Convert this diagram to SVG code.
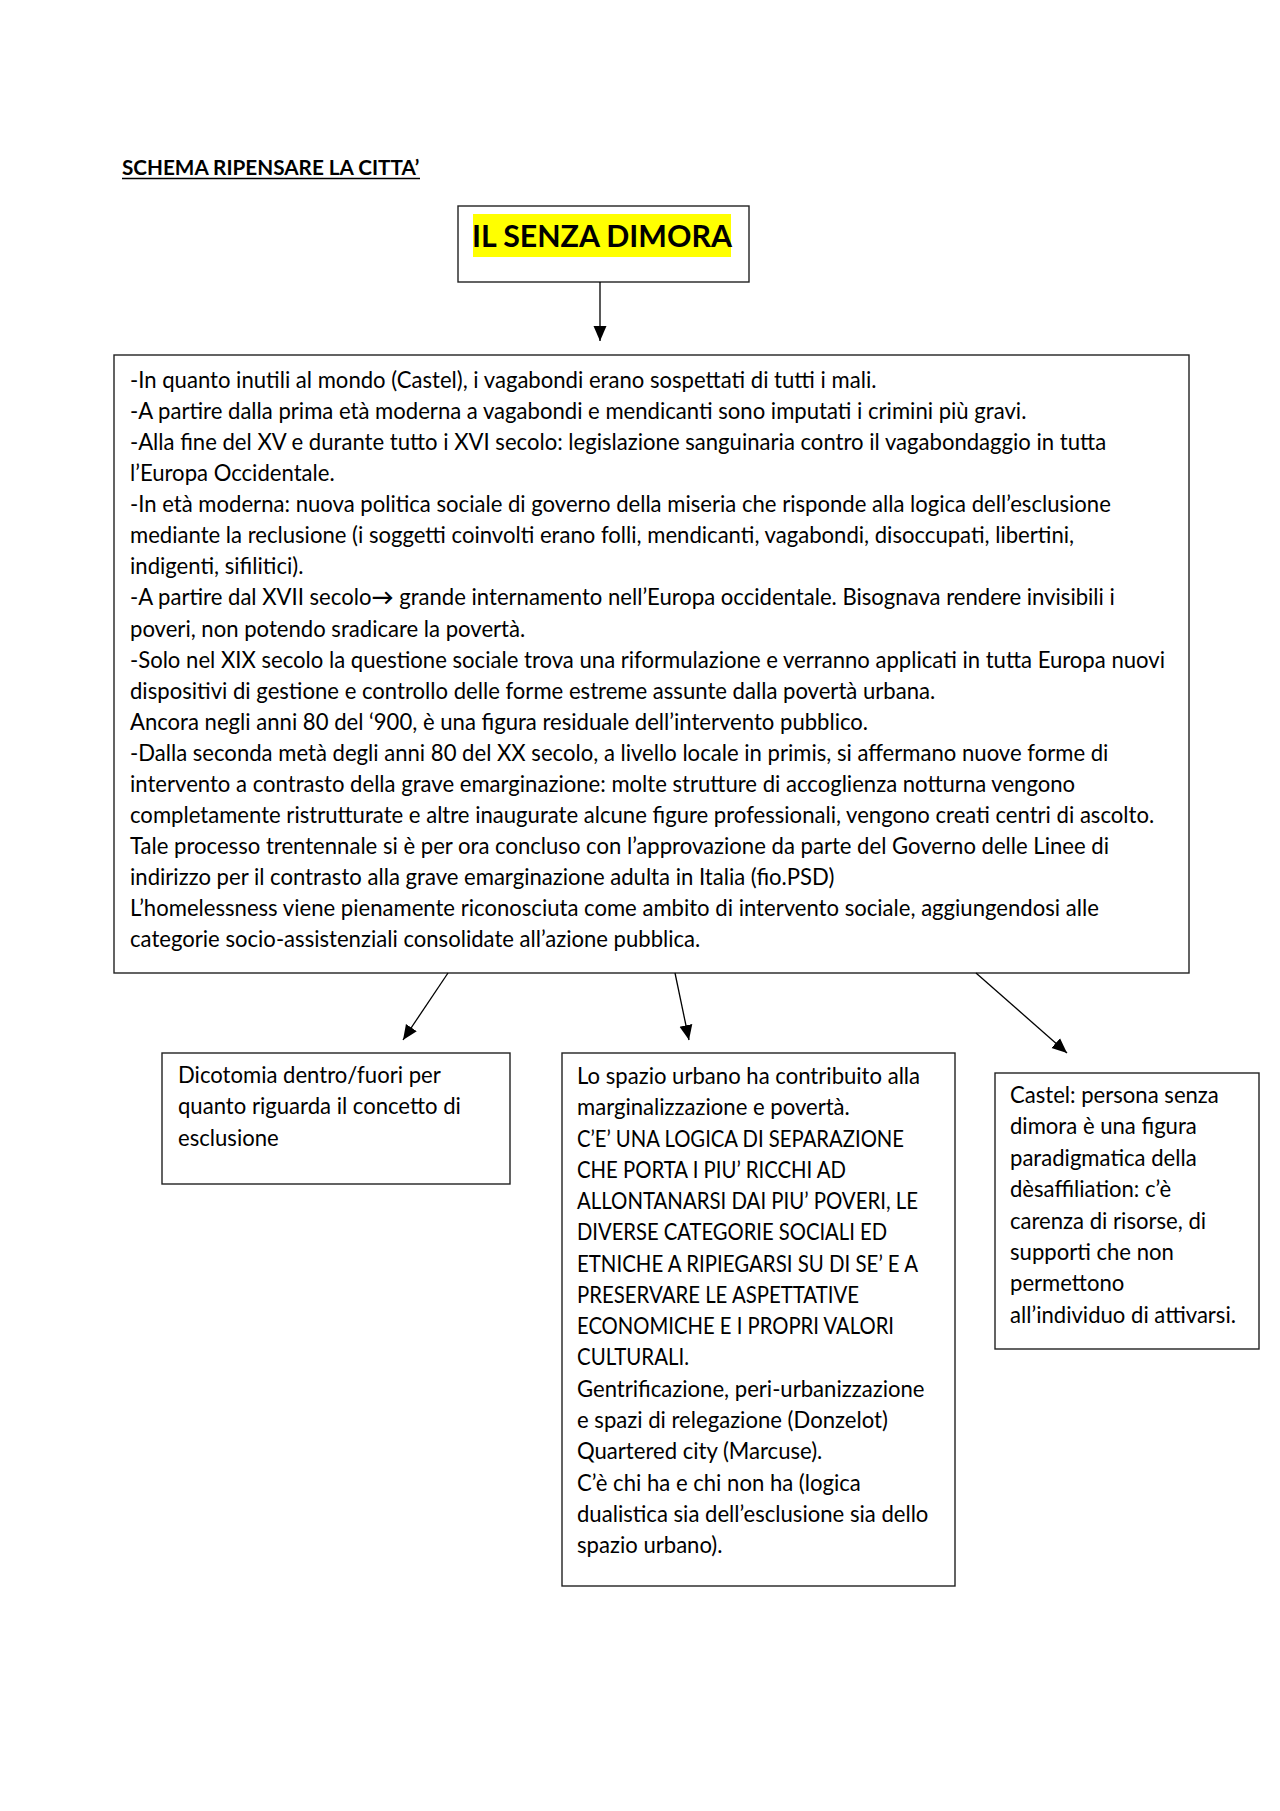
<svg xmlns="http://www.w3.org/2000/svg" width="1280" height="1811" viewBox="0 0 1280 1811">
<defs>
<marker id="ah" markerUnits="userSpaceOnUse" markerWidth="16" markerHeight="16" viewBox="0 0 16 16" refX="15" refY="8" orient="auto">
<path d="M0,1.5 L15,8 L0,14.5 Z" fill="#000"/>
</marker>
</defs>
<style>
.box{fill:#fff;stroke:#222;stroke-width:1.4}
.t{font-family:Lato,"Liberation Sans",sans-serif;font-size:22.1px;fill:#000}
.b{font-weight:bold}
.conn line{stroke:#000;stroke-width:1.3;marker-end:url(#ah)}
</style>
<rect width="1280" height="1811" fill="#fff"/>
<g id="title">
<text class="t b" x="122" y="175" style="font-size:20.7px">SCHEMA RIPENSARE LA CITTA’</text>
<line x1="122" y1="178.5" x2="420" y2="178.5" stroke="#000" stroke-width="1.5"/>
</g>
<g id="node-senza-dimora">
<rect class="box" x="458" y="206" width="291" height="76"/>
<rect x="473" y="214" width="258" height="43" fill="#ffff00"/>
<text class="t b" x="602" y="247" text-anchor="middle" style="font-size:30.3px">IL SENZA DIMORA</text>
</g>
<g id="node-storia">
<rect class="box" x="114" y="355" width="1075" height="618"/>
<text class="t">
<tspan x="130" y="388">-In quanto inutili al mondo (Castel), i vagabondi erano sospettati di tutti i mali.</tspan>
<tspan x="130" y="419.1">-A partire dalla prima età moderna a vagabondi e mendicanti sono imputati i crimini più gravi.</tspan>
<tspan x="130" y="450.1">-Alla fine del XV e durante tutto i XVI secolo: legislazione sanguinaria contro il vagabondaggio in tutta</tspan>
<tspan x="130" y="481.2">l’Europa Occidentale.</tspan>
<tspan x="130" y="512.2">-In età moderna: nuova politica sociale di governo della miseria che risponde alla logica dell’esclusione</tspan>
<tspan x="130" y="543.3">mediante la reclusione (i soggetti coinvolti erano folli, mendicanti, vagabondi, disoccupati, libertini,</tspan>
<tspan x="130" y="574.4">indigenti, sifilitici).</tspan>
<tspan x="130" y="605.4">-A partire dal XVII secolo<tspan style="font-weight:bold">→</tspan> grande internamento nell’Europa occidentale. Bisognava rendere invisibili i</tspan>
<tspan x="130" y="636.5">poveri, non potendo sradicare la povertà.</tspan>
<tspan x="130" y="667.5">-Solo nel XIX secolo la questione sociale trova una riformulazione e verranno applicati in tutta Europa nuovi</tspan>
<tspan x="130" y="698.6">dispositivi di gestione e controllo delle forme estreme assunte dalla povertà urbana.</tspan>
<tspan x="130" y="729.7">Ancora negli anni 80 del ‘900, è una figura residuale dell’intervento pubblico.</tspan>
<tspan x="130" y="760.7">-Dalla seconda metà degli anni 80 del XX secolo, a livello locale in primis, si affermano nuove forme di</tspan>
<tspan x="130" y="791.8">intervento a contrasto della grave emarginazione: molte strutture di accoglienza notturna vengono</tspan>
<tspan x="130" y="822.8">completamente ristrutturate e altre inaugurate alcune figure professionali, vengono creati centri di ascolto.</tspan>
<tspan x="130" y="853.9">Tale processo trentennale si è per ora concluso con l’approvazione da parte del Governo delle Linee di</tspan>
<tspan x="130" y="885">indirizzo per il contrasto alla grave emarginazione adulta in Italia (fio.PSD)</tspan>
<tspan x="130" y="916">L’homelessness viene pienamente riconosciuta come ambito di intervento sociale, aggiungendosi alle</tspan>
<tspan x="130" y="947.1">categorie socio-assistenziali consolidate all’azione pubblica.</tspan>
</text>
</g>
<g id="node-dicotomia">
<rect class="box" x="162" y="1053" width="348" height="131"/>
<text class="t">
<tspan x="178" y="1083">Dicotomia dentro/fuori per</tspan>
<tspan x="178" y="1114.3">quanto riguarda il concetto di</tspan>
<tspan x="178" y="1145.6">esclusione</tspan>
</text>
</g>
<g id="node-spazio-urbano">
<rect class="box" x="562" y="1053" width="393" height="533"/>
<text class="t" x="577" y="1084">Lo spazio urbano ha contribuito alla</text>
<text class="t" x="577" y="1115.3">marginalizzazione e povertà.</text>
<text class="t" x="577" y="1146.5" textLength="327" lengthAdjust="spacingAndGlyphs">C’E’ UNA LOGICA DI SEPARAZIONE</text>
<text class="t" x="577" y="1177.8" textLength="269" lengthAdjust="spacingAndGlyphs">CHE PORTA I PIU’ RICCHI AD</text>
<text class="t" x="577" y="1209.1" textLength="341" lengthAdjust="spacingAndGlyphs">ALLONTANARSI DAI PIU’ POVERI, LE</text>
<text class="t" x="577" y="1240.4" textLength="310" lengthAdjust="spacingAndGlyphs">DIVERSE CATEGORIE SOCIALI ED</text>
<text class="t" x="577" y="1271.6" textLength="341" lengthAdjust="spacingAndGlyphs">ETNICHE A RIPIEGARSI SU DI SE’ E A</text>
<text class="t" x="577" y="1302.9" textLength="282" lengthAdjust="spacingAndGlyphs">PRESERVARE LE ASPETTATIVE</text>
<text class="t" x="577" y="1334.2" textLength="317" lengthAdjust="spacingAndGlyphs">ECONOMICHE E I PROPRI VALORI</text>
<text class="t" x="577" y="1365.4" textLength="112" lengthAdjust="spacingAndGlyphs">CULTURALI.</text>
<text class="t" x="577" y="1396.7">Gentrificazione, peri-urbanizzazione</text>
<text class="t" x="577" y="1428">e spazi di relegazione (Donzelot)</text>
<text class="t" x="577" y="1459.2">Quartered city (Marcuse).</text>
<text class="t" x="577" y="1490.5">C’è chi ha e chi non ha (logica</text>
<text class="t" x="577" y="1521.8">dualistica sia dell’esclusione sia dello</text>
<text class="t" x="577" y="1553">spazio urbano).</text>
</g>
<g id="node-castel">
<rect class="box" x="995" y="1073" width="264" height="276"/>
<text class="t">
<tspan x="1010" y="1103">Castel: persona senza</tspan>
<tspan x="1010" y="1134.4">dimora è una figura</tspan>
<tspan x="1010" y="1165.8">paradigmatica della</tspan>
<tspan x="1010" y="1197.2">dèsaffiliation: c’è</tspan>
<tspan x="1010" y="1228.6">carenza di risorse, di</tspan>
<tspan x="1010" y="1260">supporti che non</tspan>
<tspan x="1010" y="1291.4">permettono</tspan>
<tspan x="1010" y="1322.8">all’individuo di attivarsi.</tspan>
</text>
</g>
<g id="connectors" class="conn">
<line x1="600" y1="282" x2="600" y2="341"/>
<line x1="448" y1="973" x2="403" y2="1040"/>
<line x1="675" y1="973" x2="689" y2="1040"/>
<line x1="976" y1="973" x2="1067" y2="1053"/>
</g>
</svg>
